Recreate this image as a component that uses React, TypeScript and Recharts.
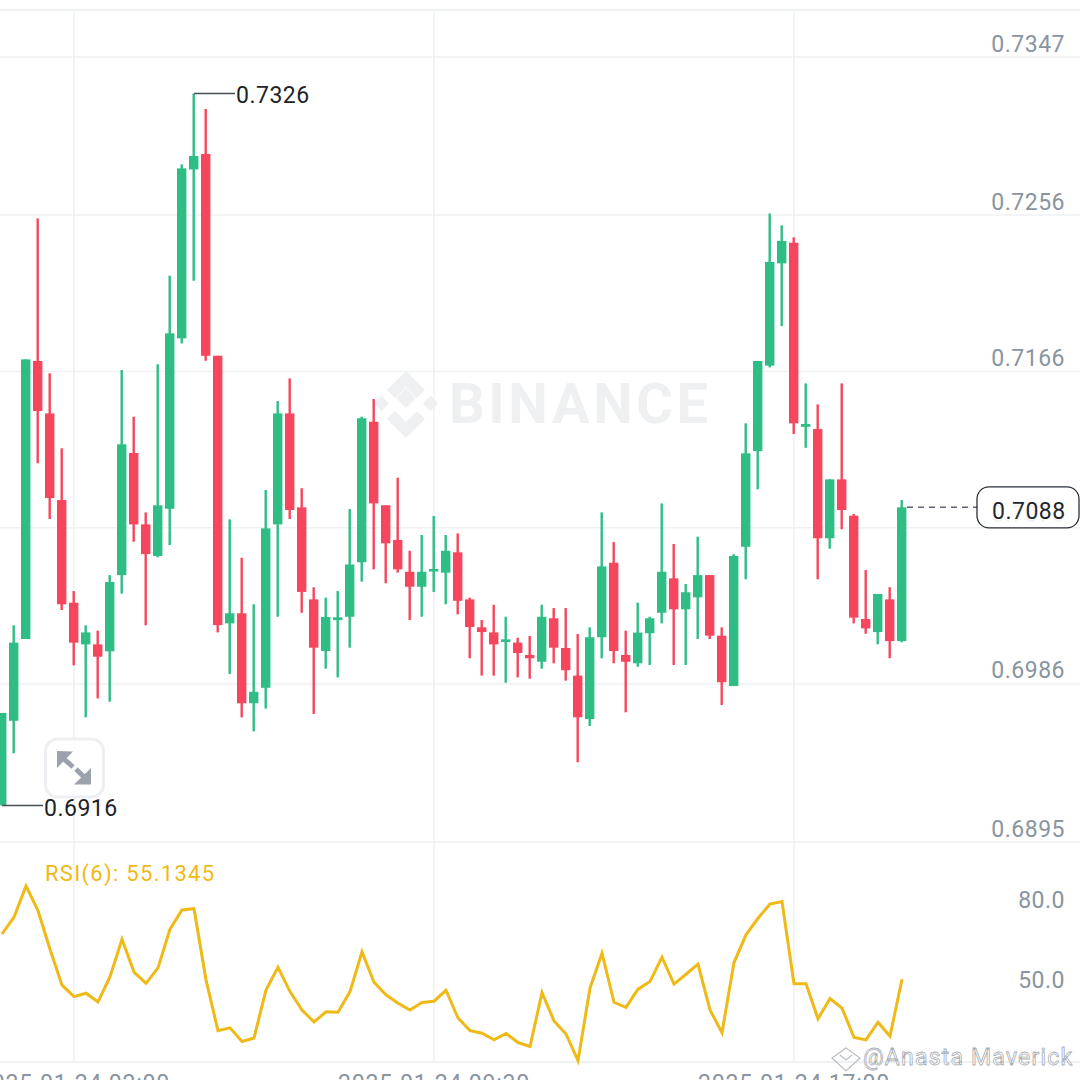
import React from "react";
import {
  Bar,
  CartesianGrid,
  ComposedChart,
  Line,
  ReferenceDot,
  ReferenceLine,
  XAxis,
  YAxis,
} from "recharts";

const FONT = "Roboto, sans-serif";
const GRID = "#EFF1F3";
const UP = "#2EBD85";
const DOWN = "#F6465D";
const AXIS_TEXT = "#8A94A0";
const DARK_TEXT = "#1E2329";
const RSI_COLOR = "#EFB916";

// 15 minute slots, the last ones are the empty room right of the newest candle
const times = [
  "00:30", "00:45", "01:00", "01:15", "01:30", "01:45", "02:00", "02:15", "02:30", "02:45", "03:00", "03:15", "03:30",
  "03:45", "04:00", "04:15", "04:30", "04:45", "05:00", "05:15", "05:30", "05:45", "06:00", "06:15", "06:30", "06:45",
  "07:00", "07:15", "07:30", "07:45", "08:00", "08:15", "08:30", "08:45", "09:00", "09:15", "09:30", "09:45", "10:00",
  "10:15", "10:30", "10:45", "11:00", "11:15", "11:30", "11:45", "12:00", "12:15", "12:30", "12:45", "13:00", "13:15",
  "13:30", "13:45", "14:00", "14:15", "14:30", "14:45", "15:00", "15:15", "15:30", "15:45", "16:00", "16:15", "16:30",
  "16:45", "17:00", "17:15", "17:30", "17:45", "18:00", "18:15", "18:30", "18:45", "19:00", "19:15", "19:30", "19:45",
  "20:00", "20:15", "20:30", "20:45", "21:00", "21:15", "21:30", "21:45", "22:00", "22:15", "22:30", "22:45", "23:00",
];

const opens = [
  0.69163, 0.69648, 0.70119, 0.7172, 0.71418, 0.70919, 0.70328, 0.70088, 0.70088, 0.70048, 0.70487, 0.7119, 0.70779,
  0.70597, 0.70869, 0.7185, 0.72823, 0.72912, 0.7175, 0.70209, 0.70267, 0.69749, 0.69838, 0.70779, 0.71418, 0.70877,
  0.70347, 0.7005, 0.70228, 0.70247, 0.70561, 0.7137, 0.70889, 0.70689, 0.70506, 0.7042, 0.7051, 0.70501, 0.70618,
  0.70347, 0.70186, 0.70157, 0.70102, 0.70098, 0.70027, 0.69988, 0.70238, 0.70067, 0.69908, 0.69658, 0.70129, 0.70558,
  0.70027, 0.69979, 0.70152, 0.7027, 0.70468, 0.7029, 0.70359, 0.70487, 0.70138, 0.69848, 0.7065, 0.71201, 0.71693,
  0.72282, 0.72401, 0.71341, 0.71328, 0.70699, 0.71038, 0.70829, 0.70234, 0.70159, 0.70347, 0.70107,
];
const highs = [
  0.69693, 0.70198, 0.71729, 0.72541, 0.71649, 0.71217, 0.70395, 0.70198, 0.70167, 0.70487, 0.71668, 0.71399, 0.70848,
  0.71701, 0.72211, 0.72852, 0.7326, 0.73171, 0.7175, 0.70808, 0.70587, 0.70319, 0.70977, 0.71489, 0.7162, 0.70987,
  0.70417, 0.70357, 0.70395, 0.70867, 0.71399, 0.71501, 0.70889, 0.71048, 0.70627, 0.70718, 0.70827, 0.70718, 0.70727,
  0.70357, 0.70228, 0.70316, 0.70247, 0.70126, 0.70136, 0.70316, 0.70297, 0.70297, 0.70148, 0.70186, 0.70848, 0.70677,
  0.70167, 0.70328, 0.70247, 0.709, 0.70666, 0.70436, 0.70708, 0.70487, 0.70186, 0.70607, 0.71361, 0.7172, 0.7257,
  0.72501, 0.72432, 0.71591, 0.7147, 0.71038, 0.71591, 0.70839, 0.70516, 0.70378, 0.70417, 0.70919,
];
const lows = [
  0.6916, 0.69461, 0.70119, 0.71131, 0.7081, 0.70286, 0.69967, 0.69668, 0.69777, 0.69758, 0.7038, 0.70679, 0.70198,
  0.70589, 0.7066, 0.71821, 0.72182, 0.71721, 0.70157, 0.69917, 0.69668, 0.69587, 0.69718, 0.70247, 0.7081, 0.7027,
  0.69687, 0.69948, 0.69898, 0.70069, 0.70449, 0.7052, 0.7044, 0.70501, 0.70228, 0.70247, 0.7039, 0.70319, 0.70261,
  0.70008, 0.69908, 0.69908, 0.69867, 0.69898, 0.6989, 0.69948, 0.69979, 0.69879, 0.69409, 0.69618, 0.70008, 0.69979,
  0.69697, 0.69959, 0.69969, 0.70209, 0.69969, 0.69969, 0.70119, 0.70119, 0.69739, 0.69848, 0.70463, 0.70981, 0.71683,
  0.71921, 0.71299, 0.7122, 0.70463, 0.70639, 0.70751, 0.70209, 0.70149, 0.70088, 0.70008, 0.701,
];
const closes = [
  0.69693, 0.70098, 0.71729, 0.71432, 0.70931, 0.70319, 0.70098, 0.70157, 0.70017, 0.70447, 0.7124, 0.70779, 0.70608,
  0.70889, 0.71879, 0.72829, 0.729, 0.7175, 0.70199, 0.70267, 0.69749, 0.69815, 0.70756, 0.71418, 0.70862, 0.7039,
  0.70069, 0.70246, 0.70244, 0.70548, 0.7139, 0.709, 0.7067, 0.7052, 0.7042, 0.70506, 0.70522, 0.70627, 0.70339,
  0.70188, 0.70159, 0.70088, 0.70117, 0.70038, 0.70008, 0.70247, 0.70069, 0.69939, 0.69668, 0.70129, 0.70537, 0.7005,
  0.69988, 0.70156, 0.70238, 0.70506, 0.7029, 0.70388, 0.70487, 0.70138, 0.6987, 0.70597, 0.71188, 0.7172, 0.7229,
  0.72411, 0.71361, 0.71357, 0.70699, 0.71038, 0.70862, 0.70242, 0.7018, 0.70378, 0.70107, 0.70877,
];
const rsiValues = [
  72.1, 78.4, 90.1, 80.9, 66.4, 52.9, 48.6, 49.9, 46.6, 56.1, 70.1, 57.8, 53.6, 59.4, 73.9, 81.1, 81.6, 54.9, 35.8,
  36.9, 31.8, 33.1, 51.1, 59.6, 50.5, 43.6, 39.1, 42.9, 42.8, 50.5, 65.4, 54.0, 49.3, 46.1, 43.6, 46.4, 46.9, 51.0,
  40.6, 35.9, 34.9, 32.4, 34.8, 31.4, 29.9, 50.1, 39.5, 34.6, 24.6, 51.8, 64.9, 46.5, 44.6, 51.4, 54.3, 63.4, 53.3,
  57.0, 60.8, 43.6, 35.1, 61.4, 71.8, 78.0, 83.3, 84.3, 53.4, 53.4, 40.3, 47.9, 44.3, 33.3, 32.4, 39.0, 33.8, 55.13,
];

const timeTicks = ["02:00", "09:30", "17:00"];
const priceTicks = [0.6895, 0.6986, 0.7076, 0.7166, 0.7256, 0.7347];
const rsiTicks = [50, 80];
const PRICE_DOMAIN = [0.6895, 0.73741];
const RSI_DOMAIN = [24.1, 106.6];
const COVERED_TICK = 0.7076; // sits behind the last price box

const candleData = times.map((time, i) =>
  i < opens.length
    ? { time, open: opens[i], close: closes[i], high: highs[i], low: lows[i], range: [lows[i], highs[i]] }
    : { time }
);
const rsiData = times.map((time, i) => ({ time, rsi: i < rsiValues.length ? rsiValues[i] : null }));

// the bar covers low..high, open and close are placed inside it on the same scale
const Candle = (props: any) => {
  const { x, y, width, height, payload } = props;
  if (payload.open === undefined) return null;
  const color = payload.close >= payload.open ? UP : DOWN;
  const perUnit = height / (payload.high - payload.low);
  const top = y + (payload.high - Math.max(payload.open, payload.close)) * perUnit;
  const bottom = y + (payload.high - Math.min(payload.open, payload.close)) * perUnit;
  return (
    <g>
      <rect x={x + width / 2 - 1.2} y={y} width={2.4} height={height} fill={color} />
      <rect x={x} y={top} width={width} height={Math.max(bottom - top, 2.5)} fill={color} />
    </g>
  );
};

const PriceTick = (props: any) => {
  const { x, y, payload } = props;
  return (
    <text
      x={x - 15}
      y={y - 5.5}
      textAnchor="end"
      fontSize={23}
      letterSpacing={0.5}
      fontFamily={FONT}
      fill={AXIS_TEXT}
      fillOpacity={payload.value === COVERED_TICK ? 0.12 : 1}
    >
      {payload.value.toFixed(4)}
    </text>
  );
};

const ExtremeTag = (props: any) => {
  const { cx, cy, label, textDy } = props;
  return (
    <g>
      <line x1={cx} y1={cy} x2={cx + 41} y2={cy} stroke="#474D57" strokeWidth={1.5} />
      <text x={cx + 42} y={cy + textDy} fontSize={23} letterSpacing={0.5} fill={DARK_TEXT} fontFamily={FONT}>
        {label}
      </text>
    </g>
  );
};

const LastPrice = (props: any) => {
  const { cx, cy } = props;
  return (
    <g>
      <line x1={cx + 5} y1={cy} x2={cx + 75} y2={cy} stroke="#5E6673" strokeWidth={1.5} strokeDasharray="6 5" />
      <rect x={cx + 75} y={cy - 20.5} width={102} height={41} rx={12} fill="none" stroke="#2B3139" strokeWidth={1.3} />
      <text x={cx + 90} y={cy + 12} fontSize={23} letterSpacing={0.5} fill={DARK_TEXT} fontFamily={FONT}>
        0.7088
      </text>
    </g>
  );
};

const Watermark = () => (
  <svg width={1080} height={1080} style={{ position: "absolute", left: 0, top: 0 }}>
    <g fill="#EEF0F1">
      <rect x={399} y={391} width={14} height={14} transform="rotate(45 406 398)" />
      <path d="M406 371 L425 390 L417 398 L406 387 L395 398 L387 390 Z" />
      <path d="M406 438 L425 419 L417 411 L406 422 L395 411 L387 419 Z" />
      <rect x={376} y={398} width={11} height={11} transform="rotate(45 381.5 403.5)" />
      <rect x={425} y={398} width={11} height={11} transform="rotate(45 430.5 403.5)" />
      <text x={449} y={423} fontSize={56} fontWeight={700} letterSpacing={3.6} fontFamily={FONT}>
        BINANCE
      </text>
    </g>
  </svg>
);

const Overlay = () => (
  <svg width={1080} height={1080} style={{ position: "absolute", left: 0, top: 0, pointerEvents: "none" }}>
    <rect x={45.5} y={739} width={58} height={58} rx={12} fill="#fff" fillOpacity={0.85} stroke="#EDEFF2" strokeWidth={3} />
    <g fill="#9CA2AB" stroke="none">
      <path d="M57 751 L73 751.5 L57 768 Z" />
      <path d="M91 768 L91 784.5 L74 784.5 Z" />
    </g>
    <line x1={64} y1={759} x2={73} y2={767} stroke="#9CA2AB" strokeWidth={5} />
    <line x1={76} y1={769} x2={84} y2={777} stroke="#9CA2AB" strokeWidth={5} />
    <text x={45} y={881} fontSize={22} letterSpacing={1.3} fill={RSI_COLOR} fontFamily={FONT}>
      RSI(6): 55.1345
    </text>
    <g fill="none" stroke="#B9BEC4" strokeWidth={1.2}>
      <path d="M832 1058 L846 1048 L860 1058 L846 1071 Z" />
      <path d="M840 1055 L846 1060 L852 1055" />
    </g>
    <text x={863} y={1065} fontSize={23} fill="#fff" stroke="#A9AEB5" strokeWidth={0.8} letterSpacing={1.2} fontFamily={FONT}>
      @Anasta Maverick
    </text>
  </svg>
);

const App = () => {
  return (
    <div style={{ position: "absolute", left: 0, top: 0, width: 1080, height: 1080, overflow: "hidden", background: "#fff" }}>
      <Watermark />
      <div style={{ position: "absolute", left: -4, top: 0 }}>
        <ComposedChart width={1092} height={842} data={candleData} margin={{ top: 10, right: 0, bottom: 0, left: 0 }}>
          <CartesianGrid stroke={GRID} strokeWidth={1.5} />
          <XAxis dataKey="time" ticks={timeTicks} interval={0} hide />
          <YAxis
            orientation="right"
            mirror
            domain={PRICE_DOMAIN}
            ticks={priceTicks}
            interval={0}
            axisLine={false}
            tickLine={false}
            tick={PriceTick}
          />
          <ReferenceLine y={PRICE_DOMAIN[1]} stroke={GRID} strokeWidth={2.5} />
          <Bar dataKey="range" barSize={9.4} shape={Candle} isAnimationActive={false} />
          <ReferenceDot x="04:30" y={0.7326} ifOverflow="visible" shape={(p: any) => <ExtremeTag {...p} label="0.7326" textDy={9} />} />
          <ReferenceDot x="00:30" y={0.6916} ifOverflow="visible" shape={(p: any) => <ExtremeTag {...p} label="0.6916" textDy={10} />} />
          <ReferenceDot x="19:15" y={0.70877} ifOverflow="visible" shape={LastPrice} />
        </ComposedChart>
      </div>
      <div style={{ position: "absolute", left: -4, top: 842 }}>
        <ComposedChart width={1092} height={238} data={rsiData} margin={{ top: 0, right: 0, bottom: 0, left: 0 }}>
          <CartesianGrid stroke={GRID} strokeWidth={1.5} horizontal={false} />
          <XAxis
            dataKey="time"
            scale="band"
            ticks={timeTicks}
            interval={0}
            height={18}
            axisLine={false}
            tickLine={false}
            tickFormatter={(t: string) => `2025-01-24 ${t}`}
            tick={{ fontSize: 23, fill: AXIS_TEXT, fontFamily: FONT, letterSpacing: 0.8, dy: 5 }}
          />
          <YAxis
            orientation="right"
            mirror
            domain={RSI_DOMAIN}
            ticks={rsiTicks}
            interval={0}
            axisLine={false}
            tickLine={false}
            tickFormatter={(v: number) => v.toFixed(1)}
            tick={{ fontSize: 23, fill: AXIS_TEXT, fontFamily: FONT, letterSpacing: 0.5, dy: -13.5, dx: -15 }}
          />
          <ReferenceLine y={RSI_DOMAIN[1]} stroke={GRID} strokeWidth={2} />
          <ReferenceLine y={RSI_DOMAIN[0]} stroke={GRID} strokeWidth={2} />
          <Line dataKey="rsi" type="linear" stroke={RSI_COLOR} strokeWidth={3} dot={false} isAnimationActive={false} />
        </ComposedChart>
      </div>
      <Overlay />
    </div>
  );
};

export default App;
